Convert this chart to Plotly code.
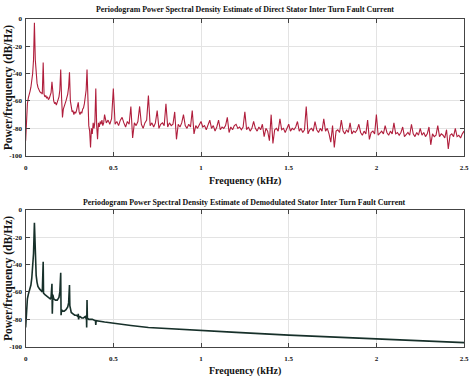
import plotly.graph_objects as go

# ---------------- data ----------------
# Top panel: direct stator current PSD (kHz, dB/Hz)
top_freq_lo = [0.000, 0.005, 0.010, 0.015, 0.020, 0.025, 0.030, 0.035, 0.040, 0.045,
               0.050, 0.055, 0.060, 0.065, 0.070, 0.075, 0.080, 0.085, 0.090, 0.095,
               0.100, 0.105, 0.110, 0.115, 0.120, 0.125, 0.130, 0.135, 0.140, 0.145,
               0.150, 0.155, 0.160, 0.165, 0.170, 0.175, 0.180, 0.185, 0.190, 0.195,
               0.200, 0.205, 0.210, 0.215, 0.220, 0.225, 0.230, 0.235, 0.240, 0.245,
               0.250, 0.255, 0.260, 0.265, 0.270, 0.275, 0.280, 0.285, 0.290, 0.295,
               0.300, 0.305, 0.310, 0.315, 0.320, 0.325, 0.330, 0.335, 0.340, 0.345,
               0.350, 0.355, 0.360, 0.365, 0.370, 0.375, 0.380, 0.385, 0.390, 0.395,
               0.400, 0.405, 0.410, 0.415, 0.420, 0.425, 0.430, 0.435, 0.440, 0.445,
               0.450]
top_psd_lo = [-89, -68, -62, -58, -56, -53, -50, -46, -40, -30,
              -3, -30, -42, -47, -50, -52, -53, -54, -54, -55,
              -32, -55, -57, -56, -58, -57, -59, -58, -56, -54,
              -46, -56, -60, -62, -61, -63, -61, -60, -57, -52,
              -37, -58, -72, -66, -63, -62, -60, -58, -55, -50,
              -39, -60, -66, -68, -67, -70, -68, -69, -67, -64,
              -61, -68, -70, -68, -69, -66, -65, -62, -58, -52,
              -37, -60, -78, -82, -94, -80, -84, -76, -80, -75,
              -51, -78, -88, -76, -79, -75, -77, -74, -78, -76,
              -70]
top_freq_hi = [0.46, 0.47, 0.48, 0.49,
               0.50, 0.51, 0.52, 0.53, 0.54, 0.55, 0.56, 0.57, 0.58, 0.59,
               0.60, 0.61, 0.62, 0.63, 0.64, 0.65, 0.66, 0.67, 0.68, 0.69,
               0.70, 0.71, 0.72, 0.73, 0.74, 0.75, 0.76, 0.77, 0.78, 0.79,
               0.80, 0.81, 0.82, 0.83, 0.84, 0.85, 0.86, 0.87, 0.88, 0.89,
               0.90, 0.91, 0.92, 0.93, 0.94, 0.95, 0.96, 0.97, 0.98, 0.99,
               1.00, 1.01, 1.02, 1.03, 1.04, 1.05, 1.06, 1.07, 1.08, 1.09,
               1.10, 1.11, 1.12, 1.13, 1.14, 1.15, 1.16, 1.17, 1.18, 1.19,
               1.20, 1.21, 1.22, 1.23, 1.24, 1.25, 1.26, 1.27, 1.28, 1.29,
               1.30, 1.31, 1.32, 1.33, 1.34, 1.35, 1.36, 1.37, 1.38, 1.39,
               1.40, 1.41, 1.42, 1.43, 1.44, 1.45, 1.46, 1.47, 1.48, 1.49,
               1.50, 1.51, 1.52, 1.53, 1.54, 1.55, 1.56, 1.57, 1.58, 1.59,
               1.60, 1.61, 1.62, 1.63, 1.64, 1.65, 1.66, 1.67, 1.68, 1.69,
               1.70, 1.71, 1.72, 1.73, 1.74, 1.75, 1.76, 1.77, 1.78, 1.79,
               1.80, 1.81, 1.82, 1.83, 1.84, 1.85, 1.86, 1.87, 1.88, 1.89,
               1.90, 1.91, 1.92, 1.93, 1.94, 1.95, 1.96, 1.97, 1.98, 1.99,
               2.00, 2.01, 2.02, 2.03, 2.04, 2.05, 2.06, 2.07, 2.08, 2.09,
               2.10, 2.11, 2.12, 2.13, 2.14, 2.15, 2.16, 2.17, 2.18, 2.19,
               2.20, 2.21, 2.22, 2.23, 2.24, 2.25, 2.26, 2.27, 2.28, 2.29,
               2.30, 2.31, 2.32, 2.33, 2.34, 2.35, 2.36, 2.37, 2.38, 2.39,
               2.40, 2.41, 2.42, 2.43, 2.44, 2.45, 2.46, 2.47, 2.48, 2.49,
               2.50]
top_psd_hi = [-76, -74, -77, -73,
              -51, -77, -75, -78, -74, -72, -76, -79, -75, -77,
              -64, -87, -76, -78, -75, -64, -77, -80, -76, -74,
              -56, -78, -76, -79, -76, -67, -80, -77, -76, -78,
              -62, -79, -76, -78, -77, -68, -88, -77, -79, -76,
              -70, -78, -80, -77, -79, -67, -84, -78, -80, -77,
              -75, -79, -78, -81, -78, -74, -80, -78, -82, -79,
              -74, -81, -79, -80, -78, -72, -83, -79, -81, -78,
              -77, -80, -79, -81, -79, -68, -81, -79, -82, -80,
              -75, -80, -82, -79, -81, -77, -86, -80, -82, -89,
              -70, -91, -81, -80, -82, -73, -81, -80, -83, -80,
              -77, -82, -80, -81, -79, -75, -82, -80, -83, -81,
              -64, -84, -81, -80, -82, -75, -81, -83, -80, -82,
              -73, -82, -80, -84, -90, -78, -94, -82, -81, -83,
              -74, -82, -84, -81, -83, -76, -84, -82, -83, -81,
              -77, -83, -85, -82, -84, -74, -88, -83, -82, -84,
              -70, -85, -83, -82, -84, -78, -83, -85, -82, -84,
              -76, -84, -83, -85, -83, -79, -86, -84, -83, -85,
              -77, -84, -86, -83, -85, -80, -85, -83, -86, -84,
              -79, -92, -84, -86, -85, -78, -86, -84, -85, -87,
              -81, -95, -85, -84, -86, -80, -86, -85, -87, -84,
              -82]

# Bottom panel: demodulated stator current PSD (kHz, dB/Hz)
bot_freq = [0.000, 0.005, 0.010, 0.015, 0.020, 0.025, 0.030, 0.035, 0.040, 0.045,
            0.050, 0.055, 0.060, 0.065, 0.070, 0.080, 0.090, 0.095, 0.100, 0.102,
            0.110, 0.120, 0.130, 0.140, 0.145, 0.150, 0.152, 0.155, 0.160, 0.170,
            0.180, 0.190, 0.195, 0.200, 0.202, 0.205, 0.210, 0.220, 0.230, 0.240,
            0.245, 0.250, 0.252, 0.255, 0.260, 0.270, 0.280, 0.290, 0.298, 0.300,
            0.302, 0.305, 0.310, 0.320, 0.330, 0.340, 0.347, 0.348, 0.350, 0.352,
            0.360, 0.380, 0.398, 0.400, 0.402, 0.450, 0.500, 0.600, 0.700, 0.800,
            1.000, 1.200, 1.500, 1.800, 2.000, 2.200, 2.500]
bot_psd = [-86, -70, -65, -62, -60, -58, -55, -50, -43, -32,
           -9.5, -34, -48, -53, -56, -58, -59, -60, -38, -61,
           -62, -63, -64, -65, -64, -54, -76, -62, -65, -66,
           -66, -64, -60, -46, -77, -73, -74, -74, -73, -71,
           -68, -55, -70, -74, -75, -76, -77, -77, -78, -76,
           -80, -78, -78, -79, -79, -78, -80, -86, -66, -79,
           -80, -80, -81, -84, -81, -82, -83, -84.5, -86, -86.8,
           -88, -89.5, -91.5, -93, -94.5, -95.5, -97]

x_tickvals = [0, 0.5, 1, 1.5, 2, 2.5]
x_ticktext = ["0", "0.5", "1", "1.5", "2", "2.5"]
y_tickvals = [0, -20, -40, -60, -80, -100]
y_ticktext = ["0", "-20", "-40", "-60", "-80", "-100"]

titles = ["Periodogram Power Spectral Density Estimate of Direct Stator Inter Turn Fault Current",
          "Periodogram Power Spectral Density Estimate of Demodulated Stator Inter Turn Fault Current"]
x_label = "Frequency (kHz)"
y_label = "Power/frequency (dB/Hz)"

# ---------------- figure ----------------
SERIF = "Liberation Serif"
W, H = 474, 386

fig = go.Figure()
fig.add_trace(go.Scatter(x=top_freq_lo + top_freq_hi, y=top_psd_lo + top_psd_hi,
                         mode="lines", line=dict(color="#B01E3C", width=1.1),
                         xaxis="x", yaxis="y", showlegend=False))
fig.add_trace(go.Scatter(x=bot_freq, y=bot_psd, mode="lines",
                         line=dict(color="#17302A", width=1.6),
                         xaxis="x2", yaxis="y2", showlegend=False))

xl, xr = 24 / W, 469 / W
top_dom = [1 - 155 / H, 1 - 15 / H]
bot_dom = [1 - 350 / H, 1 - 210 / H]

tickfont = dict(family=SERIF, size=7, color="#111", weight="bold")
common_x = dict(range=[0, 2.5], tickvals=x_tickvals, ticktext=x_ticktext,
                showgrid=True, gridcolor="#E3E3E3", gridwidth=1,
                showline=True, linecolor="#444", linewidth=1.3, mirror="ticks",
                ticks="inside", ticklen=4, tickcolor="#444", tickfont=tickfont,
                ticklabeloverflow="allow", ticklabelstandoff=5,
                zeroline=False, domain=[xl, xr])
common_y = dict(range=[-100, 0], tickvals=y_tickvals, ticktext=y_ticktext,
                showgrid=True, gridcolor="#E3E3E3", gridwidth=1,
                showline=True, linecolor="#444", linewidth=1.3, mirror="ticks",
                ticks="inside", ticklen=4, tickcolor="#444", tickfont=tickfont,
                ticklabeloverflow="allow", ticklabelstandoff=1,
                zeroline=False)

fig.update_layout(
    width=W, height=H,
    margin=dict(l=0, r=0, t=0, b=0),
    paper_bgcolor="white", plot_bgcolor="white",
    xaxis=dict(common_x, anchor="y"),
    yaxis=dict(common_y, domain=top_dom, anchor="x"),
    xaxis2=dict(common_x, anchor="y2"),
    yaxis2=dict(common_y, domain=bot_dom, anchor="x2"),
)

cx = (xl + xr) / 2
anns = [
    (titles[0], cx, 1 - 6 / H, 0, 7.9),
    (titles[1], cx, 1 - 203 / H, 0, 7.9),
    (x_label, cx, 1 - 181 / H, 0, 10),
    (x_label, cx, 1 - 375 / H, 0, 10),
    (y_label, 6 / W, 1 - 85 / H, -90, 11.5),
    (y_label, 6 / W, 1 - 280 / H, -90, 11.5),
]
for text, x, y, ang, sz in anns:
    fig.add_annotation(text=text, x=x, y=y, xref="paper", yref="paper",
                       xanchor="center", yanchor="middle", showarrow=False,
                       textangle=ang,
                       font=dict(family=SERIF, size=sz, color="#111", weight="bold"))

fig.write_html("out.html", config={"displayModeBar": False},
               post_script="document.body.style.margin='0px';")
